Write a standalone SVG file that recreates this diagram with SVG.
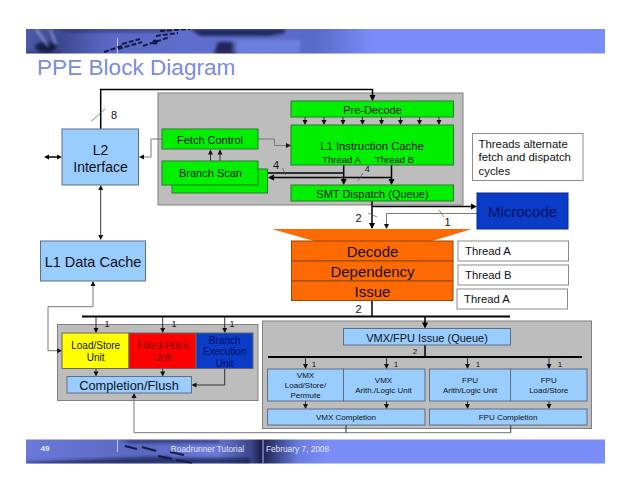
<svg xmlns="http://www.w3.org/2000/svg" width="638" height="493" viewBox="0 0 638 493">
<style>
text{font-family:"Liberation Sans",Arial,sans-serif;text-anchor:middle;fill:#111}
.st{text-anchor:start}
.g{fill:#bdbdbd;stroke:#808080;stroke-width:1}
.gr{fill:#00f000;stroke:#2b7a2b;stroke-width:1}
.bl{fill:#99ccff;stroke:#5f6f80;stroke-width:1}
.or{fill:#ff6a00;stroke:#8a4a10;stroke-width:1}
.wh{fill:#fff;stroke:#8c8c8c;stroke-width:1}
.c{fill:none;stroke:#222;stroke-width:.9}
.cg{fill:none;stroke:#777;stroke-width:1}
.t{fill:none;stroke:#000;stroke-width:1.5}
.b{fill:none;stroke:#000;stroke-width:2.2}
.s{fill:none;stroke:#555;stroke-width:.7}
.d{fill:none;stroke:#141a44;stroke-width:2}
</style>
<defs>
<linearGradient id="h" x1="0" x2="1" y1="0" y2="0"><stop offset="0" stop-color="#4c5aa8"/><stop offset=".06" stop-color="#3c4890"/><stop offset=".14" stop-color="#5a68c4"/><stop offset=".3" stop-color="#5f6ecc"/><stop offset=".5" stop-color="#5a6ac8"/><stop offset=".6" stop-color="#7a8cf8"/><stop offset="1" stop-color="#7a8cf8"/></linearGradient>
<linearGradient id="f" x1="0" x2="1" y1="0" y2="0"><stop offset="0" stop-color="#6a78d8"/><stop offset=".2" stop-color="#5a68c0"/><stop offset=".33" stop-color="#6a78d8"/><stop offset=".39" stop-color="#3a4488"/><stop offset=".405" stop-color="#1c2250"/><stop offset=".42" stop-color="#2a3268"/><stop offset=".47" stop-color="#6a7ce0"/><stop offset=".52" stop-color="#7a8cf8"/><stop offset="1" stop-color="#7a8cf8"/></linearGradient>
<filter id="bl" filterUnits="userSpaceOnUse" x="0" y="0" width="638" height="493"><feGaussianBlur stdDeviation="1.800"/></filter>
<filter id="sb" filterUnits="userSpaceOnUse" x="0" y="0" width="638" height="493"><feGaussianBlur stdDeviation=".5"/></filter>
<clipPath id="hc"><rect x="26" y="29" width="579" height="24.500"/></clipPath>
<clipPath id="fc"><rect x="26" y="439.500" width="579" height="24"/></clipPath>
</defs>
<rect x="26" y="29" width="579" height="24.500" fill="url(#h)"/>
<g clip-path="url(#hc)">
<g filter="url(#bl)" fill="#141a44">
<ellipse cx="46" cy="47" rx="11" ry="5"/>
<path d="M60 29H170V32H70z" opacity=".5"/>
<path d="M190 29H285V33L270 36H200z" opacity=".8"/>
<path d="M218 42H236V54H214z" opacity=".85"/>
<path d="M26 52H60V54H26z" opacity=".6"/>
</g>
<path d="M232 40H300V53H232z" fill="#8a9cff" opacity=".4" filter="url(#bl)"/>
<path d="M36 29L48 46M50 29L56 44" stroke="#a8b2e8" stroke-width="1.500" fill="none" filter="url(#bl)"/>
<path d="M117.500 38V53" stroke="#e8ecff" stroke-width=".8"/>
<path class="d" filter="url(#sb)" stroke-dasharray="5 2" d="M104 52L122 46M118 49L142 42M122 44L140 39M143 46L170 37M156 36L178 33M160 31L190 29"/>
<circle cx="155" cy="42" r="2.500" fill="#141a44" filter="url(#sb)"/>
</g>
<rect x="26" y="439.500" width="579" height="24" fill="url(#f)"/>
<g clip-path="url(#fc)">
<g filter="url(#bl)" fill="#141a44">
<path d="M26 462L170 456V464H26z" opacity=".7"/>
<path d="M120 440H220V443H130z" opacity=".6"/>
<path d="M170 458H250V464H170z" opacity=".7"/>
</g>
<path d="M117.500 440V452" stroke="#dfe4ff" stroke-width=".8"/>
<path d="M263 439.500V463.500" stroke="#aab6ff" stroke-width="1"/>
<path class="d" filter="url(#sb)" d="M125 446L137 449M142 447L156 451M158 456L172 459M170 452L184 455M176 460L192 463"/>
</g>
<text x="37" y="75" font-size="22.600" class="st" style="fill:#7b8cdc">PPE Block Diagram</text>
<text x="45" y="451" font-size="8" font-weight="bold" style="fill:#eef">49</text>
<text x="207.500" y="452" font-size="8.300" style="fill:#e4e6f8">Roadrunner Tutorial</text>
<text x="297.500" y="452" font-size="8.300" style="fill:#e4e6f8">February 7, 2008</text>

<rect class="g" x="158" y="93" width="305" height="112"/>
<rect class="g" x="57.500" y="324.500" width="200.500" height="76"/>
<rect class="g" x="262.500" y="321" width="329" height="107.500"/>

<g id="connectors">
<path class="t" d="M100.700 129V89.500H372.500V100"/>
<path d="M372.500 101l-3-6h6z" fill="#000"/>
<path class="s" d="M91 121.500L105 109"/>
<path class="t" d="M46 157H60"/>
<path d="M44 157l5-2.500v5zM62 157l-5-2.500v5z" fill="#000"/>
<path class="c" d="M100.700 186V239"/>
<path d="M100.700 185l-2.500 5h5zM100.700 240l-2.500-5h5z" fill="#111"/>
<path class="cg" d="M162 139H151V157H140"/>
<path d="M139 157l5-2.500v5z" fill="#111"/>
<path class="cg" d="M258 139H274.500V145.500H290"/>
<path d="M291 145.500l-5-2.500v5z" fill="#111"/>
<path class="c" d="M210.500 161V150M220 161V150"/>
<path d="M210.500 149.500l-2.500 5h5zM220 149.500l-2.500 5h5z" fill="#111"/>
<path class="c" d="M305 117V124M324 117V124M343 117V124M362.500 117V124M381.500 117V124M400.500 117V124M419.500 117V124M439 117V124"/>
<path d="M305 125l-2.500-5h5zM324 125l-2.500-5h5zM343 125l-2.500-5h5zM362.500 125l-2.500-5h5zM381.500 125l-2.500-5h5zM400.500 125l-2.500-5h5zM419.500 125l-2.500-5h5zM439 125l-2.500-5h5z" fill="#111"/>
<path class="t" d="M343.700 165V183M391.500 165V183M343.700 173H262M391.500 177.500H272"/>
<path d="M258.500 173l6-3v6zM268 177.500l6-3v6zM343.700 185l-3-6h6zM391.500 185l-3-6h6z" fill="#000"/>
<path class="s" d="M282.500 168L285.500 175M358 181L363 173"/>
<path class="t" d="M372 201V228M372 206.500H474"/>
<path d="M372 229l-3-6h6zM477 206.500l-6-3v6z" fill="#000"/>
<path class="cg" d="M477 213.500H386.500V227"/>
<path d="M386.500 229l-2.500-5h5z" fill="#111"/>
<path class="s" d="M368 213L377 217M439 210L444 217"/>
<path class="t" d="M372 300.500V316M425 317V327M425 345V357"/>
<path class="b" d="M82 316.500H510"/>
<path d="M425 328.500l-3-6h6z" fill="#000"/>
<path class="c" d="M96 317V332M162.700 317V332M224.700 317V332"/>
<path d="M96 333l-2.500-5h5zM162.700 333l-2.500-5h5zM224.700 333l-2.500-5h5z" fill="#111"/>
<path class="cg" d="M93 282V306.700H48V350.700H61"/>
<path d="M93 281l-2.500 5h5zM62 350.700l-5-2.500v5z" fill="#111"/>
<path class="c" d="M96 368V375M162.700 368V375"/>
<path d="M96 376.500l-2.500-5h5zM162.700 376.500l-2.500-5h5z" fill="#111"/>
<path class="c" d="M224.700 368V385H193"/>
<path d="M191.500 385l5-2.500v5z" fill="#111"/>
<path class="cg" d="M134 394V432.700H510.700"/>
<path class="c" d="M346 425V432.700M510.700 425V432.700"/>
<path d="M134 393l-2.500 5h5z" fill="#111"/>
<path class="b" d="M268 357H582"/>
<path class="c" d="M305.500 358V368M386.500 358V368M467.500 358V368M549 358V368M305.500 401V408M386.500 401V408M467.500 401V408M549 401V408"/>
<path d="M305.500 369l-2.500-5h5zM386.500 369l-2.500-5h5zM467.500 369l-2.500-5h5zM549 369l-2.500-5h5zM305.500 409l-2.500-5h5zM386.500 409l-2.500-5h5zM467.500 409l-2.500-5h5zM549 409l-2.500-5h5z" fill="#111"/>
</g>

<g id="pre-decode"><rect class="gr" x="291" y="101" width="162.500" height="16"/><text x="372.500" y="113.500" font-size="11">Pre-Decode</text></g>
<g id="l1-icache"><rect class="gr" x="291" y="125" width="162.500" height="40"/><text x="372" y="150" font-size="11.300">L1 Instruction Cache</text><text x="341.500" y="163" font-size="9.500">Thread A</text><text x="394.500" y="163" font-size="9.500">Thread B</text></g>
<g id="smt"><rect class="gr" x="291" y="185" width="162.500" height="16"/><text x="372.500" y="198" font-size="11">SMT Dispatch (Queue)</text></g>
<g id="fetch"><rect class="gr" x="162" y="129" width="96" height="20"/><text x="210" y="143.500" font-size="11">Fetch Control</text></g>
<g id="branch-scan"><rect class="gr" x="172" y="169" width="95.500" height="24"/><rect class="gr" x="162" y="161" width="96" height="24"/><text x="210.500" y="177" font-size="11">Branch Scan</text></g>
<g id="l2"><rect class="bl" x="62" y="129" width="76.500" height="56"/><text x="100.500" y="155" font-size="14">L2</text><text x="100.500" y="171.500" font-size="14">Interface</text></g>
<g id="l1-data"><rect class="bl" x="40.500" y="241" width="105" height="40"/><text x="93" y="267" font-size="14.500">L1 Data Cache</text></g>
<g id="note"><rect class="wh" x="472.500" y="133.500" width="110.500" height="47"/><text x="478.500" y="148" font-size="11.400" class="st">Threads alternate</text><text x="478.500" y="161" font-size="11.400" class="st">fetch and dispatch</text><text x="478.500" y="175" font-size="11.400" class="st">cycles</text></g>
<g id="microcode"><rect x="477" y="193" width="91" height="36" fill="#0a3cc8" stroke="#0a2a90"/><text x="522.500" y="217" font-size="15" style="fill:#001060">Microcode</text></g>
<g id="decode-unit"><path d="M272 229H472L432 241H314z" fill="#ff6a00"/>
<rect class="or" x="291.500" y="241" width="161.500" height="20"/><rect class="or" x="291.500" y="261" width="161.500" height="20"/><rect class="or" x="291.500" y="281" width="161.500" height="19.500"/>
<text x="372.500" y="256.500" font-size="15">Decode</text><text x="372.500" y="276.500" font-size="15">Dependency</text><text x="372.500" y="296.500" font-size="15">Issue</text></g>
<g id="thread-a1"><rect class="wh" x="458" y="241" width="110.500" height="20"/><text x="465" y="255" font-size="11.300" class="st">Thread A</text></g>
<g id="thread-b"><rect class="wh" x="458" y="265" width="110.500" height="20"/><text x="465" y="279" font-size="11.300" class="st">Thread B</text></g>
<g id="thread-a2"><rect class="wh" x="457" y="289" width="110.500" height="20"/><text x="464" y="303" font-size="11.300" class="st">Thread A</text></g>
<g id="lsu"><rect x="62" y="333" width="67" height="35.500" fill="#ffff00" stroke="#666"/><text x="95.700" y="349" font-size="10">Load/Store</text><text x="95.700" y="360.500" font-size="10">Unit</text></g>
<g id="fxu"><rect x="129" y="333" width="67" height="35.500" fill="#ff0000" stroke="#666"/><text x="162.700" y="349" font-size="10" style="fill:#700">Fixed-Point</text><text x="162.700" y="360.500" font-size="10" style="fill:#700">Unit</text></g>
<g id="bxu"><rect x="196" y="333" width="57" height="35.500" fill="#0a3cc8" stroke="#666"/><text x="224.700" y="343.500" font-size="10" style="fill:#001060">Branch</text><text x="224.700" y="355" font-size="10" style="fill:#001060">Execution</text><text x="224.700" y="366.500" font-size="10" style="fill:#001060">Unit</text></g>
<g id="completion"><rect class="bl" x="67" y="376.500" width="124.500" height="16.500"/><text x="129" y="390" font-size="12.800">Completion/Flush</text></g>
<g id="vmxfpu-issue"><rect class="bl" x="343.500" y="328.500" width="167" height="16.500"/><text x="427" y="341.500" font-size="11">VMX/FPU Issue (Queue)</text></g>
<g id="vmx-ls"><rect class="bl" x="267.500" y="369" width="76" height="32"/><text x="305.500" y="378" font-size="8">VMX</text><text x="305.500" y="388" font-size="8">Load/Store/</text><text x="305.500" y="397.500" font-size="8">Permute</text></g>
<g id="vmx-alu"><rect class="bl" x="343.500" y="369" width="81.500" height="32"/><text x="383.500" y="383" font-size="8">VMX</text><text x="383.500" y="392.700" font-size="8">Arith./Logic Unit</text></g>
<g id="fpu-alu"><rect class="bl" x="429.500" y="369" width="81" height="32"/><text x="470" y="383" font-size="8">FPU</text><text x="470" y="392.700" font-size="8">Arith/Logic Unit</text></g>
<g id="fpu-ls"><rect class="bl" x="510.500" y="369" width="76.500" height="32"/><text x="548.700" y="383" font-size="8">FPU</text><text x="548.700" y="392.700" font-size="8">Load/Store</text></g>
<g id="vmx-completion"><rect class="bl" x="267.500" y="409" width="157.500" height="16"/><text x="346" y="420" font-size="8">VMX Completion</text></g>
<g id="fpu-completion"><rect class="bl" x="429.500" y="409" width="157.500" height="16"/><text x="508" y="420" font-size="8">FPU Completion</text></g>

<g id="labels">
<text x="114" y="118.500" font-size="11">8</text><text x="276" y="168.500" font-size="11">4</text><text x="367.300" y="172" font-size="9">4</text><text x="358.500" y="222" font-size="11">2</text><text x="447.600" y="226" font-size="11">1</text><text x="358.500" y="313" font-size="11">2</text>
<text x="107" y="327" font-size="9">1</text><text x="174" y="327" font-size="9">1</text><text x="232" y="327" font-size="9">1</text>
<text x="415" y="354" font-size="8">2</text><text x="314" y="367" font-size="8">1</text><text x="396" y="367" font-size="8">1</text><text x="478" y="367" font-size="8">1</text><text x="560" y="367" font-size="8">1</text>
</g>
</svg>
